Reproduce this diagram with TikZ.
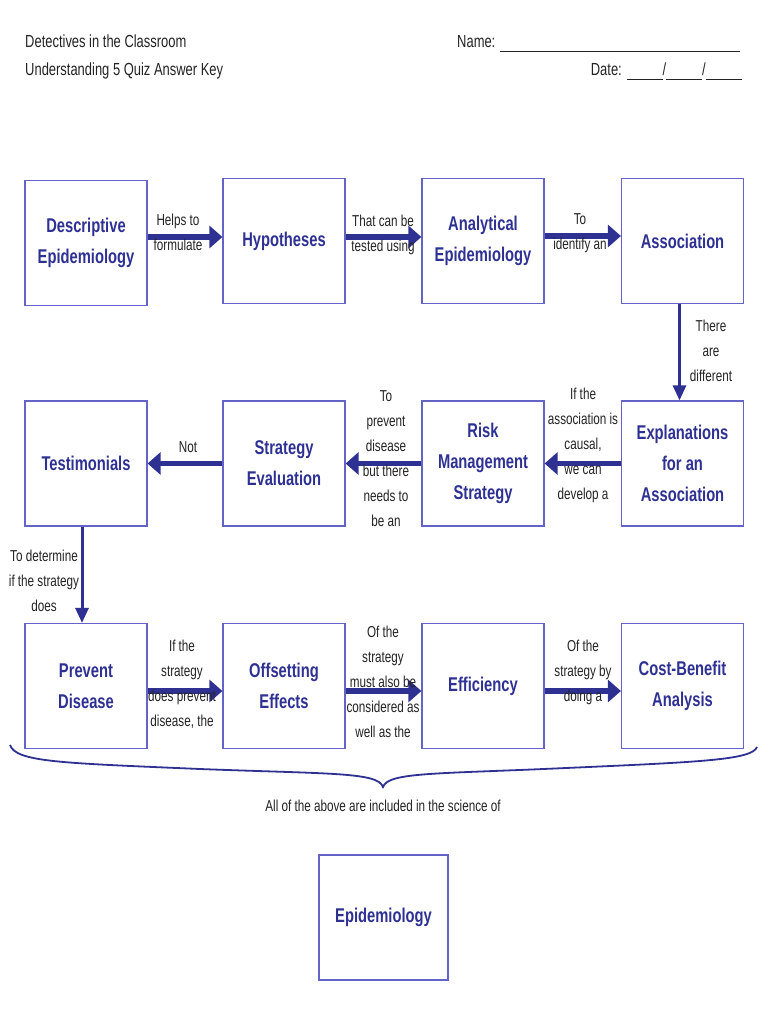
\documentclass[tikz,border=0pt]{standalone}
\usepackage{fontspec}
\setmainfont{Liberation Sans}[FakeStretch=0.74]
\usetikzlibrary{arrows.meta}
\definecolor{navy}{RGB}{46,49,146}
\definecolor{boxline}{RGB}{100,100,200}
\definecolor{inkgray}{RGB}{35,35,35}

\begin{document}
\begin{tikzpicture}[
	x=1pt,
	y=-1pt]

\tikzstyle{concept}=[draw=boxline, line width=1.2pt, minimum width=122pt,
	minimum height=125pt, align=center, text=navy,
	font=\fontsize{19.9}{31}\selectfont\bfseries]
\tikzstyle{note}=[align=center, text=inkgray, inner sep=0pt,
	font=\fontsize{15.8}{25}\selectfont]
\tikzstyle{header}=[text=inkgray, inner sep=0pt,
	font=\fontsize{17.5}{28}\selectfont]
\tikzstyle{link}=[navy, line width=5.5pt, -{Triangle[length=13pt,width=22pt]}]
\tikzstyle{thin link}=[navy, line width=3pt, -{Triangle[length=15pt,width=13pt]}]

\def\ColA{86}
\def\ColB{284}
\def\ColC{483}
\def\ColD{682.5}
\def\RowA{241}
\def\RowB{463.5}
\def\RowC{686}

\useasboundingbox (0,0) rectangle (768,1024);

% header
\node[header, anchor=base west] (title) at (25,48) {Detectives in the Classroom};
\node[header, anchor=base west] (subtitle) at (25,76) {Understanding 5 Quiz Answer Key};
\node[header, anchor=base west] (name) at (457,48)
	{Name: \rule[-4pt]{240pt}{1.1pt}};
\node[header, anchor=base east] (date) at (742,76)
	{Date: \rule[-4pt]{36pt}{1.1pt}/\rule[-4pt]{36pt}{1.1pt}/\rule[-4pt]{36pt}{1.1pt}};

% first row
\node[concept] (descr) at (\ColA,243) {Descriptive\\Epidemiology};
\node[concept] (hypo) at (\ColB,\RowA) {Hypotheses};
\node[concept] (analyt) at (\ColC,\RowA) {Analytical\\Epidemiology};
\node[concept] (assoc) at (\ColD,\RowA) {Association};

% second row
\node[concept] (testim) at (\ColA,\RowB) {Testimonials};
\node[concept] (streval) at (\ColB,\RowB) {Strategy\\Evaluation};
\node[concept] (risk) at (\ColC,\RowB) {Risk\\Management\\Strategy};
\node[concept] (explan) at (\ColD,\RowB) {Explanations\\for an\\Association};

% third row
\node[concept] (prevent) at (\ColA,\RowC) {Prevent\\Disease};
\node[concept] (offset) at (\ColB,\RowC) {Offsetting\\Effects};
\node[concept] (effic) at (\ColC,\RowC) {Efficiency};
\node[concept] (costben) at (\ColD,\RowC) {Cost-Benefit\\Analysis};

% the science
\node[concept, minimum width=129pt] (epi) at (383.5,917.5) {Epidemiology};

% connectors
\draw[link] ([yshift=6pt]descr.east) -- ([yshift=4pt]hypo.west);
\draw[link] ([yshift=4pt]hypo.east) -- ([yshift=4pt]analyt.west);
\draw[link] ([yshift=5pt]analyt.east) -- ([yshift=5pt]assoc.west);
\draw[thin link] ([xshift=-3pt]assoc.south) -- ([xshift=-3pt]explan.north);
\draw[link] (explan.west) -- (risk.east);
\draw[link] (risk.west) -- (streval.east);
\draw[link] (streval.west) -- (testim.east);
\draw[thin link] ([xshift=-4pt]testim.south) -- ([xshift=-4pt]prevent.north);
\draw[link] ([yshift=-5pt]prevent.east) -- ([yshift=-5pt]offset.west);
\draw[link] ([yshift=-5pt]offset.east) -- ([yshift=-5pt]effic.west);
\draw[link] ([yshift=-5pt]effic.east) -- ([yshift=-5pt]costben.west);

% connector labels
\node[note] (l1) at (178,232) {Helps to\\formulate};
\node[note] (l2) at (383,235) {That can be\\tested using};
\node[note] (l3) at (580,233) {To\\identify an};
\node[note] (l4) at (711,351) {There\\are\\different};
\node[note] (l5) at (583,445) {If the\\association is\\causal,\\we can\\develop a};
\node[note] (l6) at (386,459) {To\\prevent\\disease\\but there\\needs to\\be an};
\node[note] (l7) at (188,447) {Not};
\node[note] (l8) at (44,581) {To determine\\if the strategy\\does};
\node[note] (l9) at (182,684) {If the\\strategy\\does prevent\\disease, the};
\node[note] (l10) at (383,682) {Of the\\strategy\\must also be\\considered as\\well as the};
\node[note] (l11) at (583,672) {Of the\\strategy by\\doing a};

% brace round the three rows
\draw[navy, line width=1.8pt]
	(10,745) .. controls (16,762) and (60,763) .. (200,769)
	.. controls (330,774) and (378,772) .. (383,787)
	.. controls (388,772) and (436,774) .. (566,768)
	.. controls (700,762) and (752,760) .. (757,747);
\node[note] (science) at (383,806) {All of the above are included in the science of};

\end{tikzpicture}
\end{document}
